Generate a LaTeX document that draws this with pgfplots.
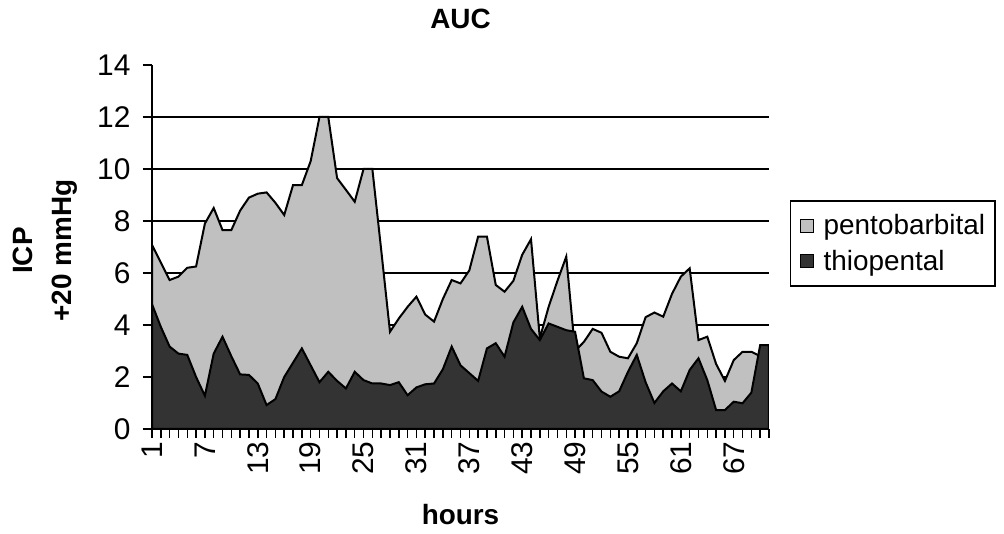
\documentclass[border=0pt]{standalone}
\usepackage{pgfplots}
\usepackage{pgfplotstable}
\pgfplotsset{compat=1.18}
\usepackage{fontspec}
\setmainfont{Liberation Sans}
\definecolor{pento}{RGB}{192,192,192}
\definecolor{thio}{RGB}{51,51,51}

\pgfplotstableread{
h p t
1 7.08 4.80
2 6.40 3.93
3 5.73 3.17
4 5.86 2.90
5 6.20 2.85
6 6.25 2.00
7 7.90 1.28
8 8.50 2.90
9 7.65 3.55
10 7.65 2.80
11 8.40 2.10
12 8.90 2.08
13 9.05 1.75
14 9.10 0.92
15 8.70 1.15
16 8.23 2.00
17 9.38 2.55
18 9.38 3.10
19 10.30 2.45
20 12.00 1.80
21 12.00 2.20
22 9.65 1.85
23 9.20 1.56
24 8.74 2.20
25 10.00 1.88
26 10.00 1.75
27 6.90 1.75
28 3.74 1.69
29 4.25 1.80
30 4.70 1.30
31 5.09 1.60
32 4.40 1.72
33 4.13 1.75
34 5.00 2.30
35 5.73 3.17
36 5.60 2.45
37 6.10 2.15
38 7.40 1.85
39 7.40 3.10
40 5.54 3.30
41 5.28 2.78
42 5.70 4.10
43 6.70 4.70
44 7.30 3.85
45 3.49 3.42
46 4.70 4.06
47 5.70 3.93
48 6.63 3.80
49 3.00 3.74
50 3.35 1.95
51 3.85 1.88
52 3.70 1.44
53 2.97 1.24
54 2.78 1.45
55 2.72 2.20
56 3.30 2.85
57 4.30 1.80
58 4.48 1.00
59 4.32 1.45
60 5.20 1.75
61 5.86 1.45
62 6.18 2.27
63 3.42 2.72
64 3.55 1.88
65 2.50 0.73
66 1.85 0.73
67 2.65 1.05
68 2.97 0.99
69 2.97 1.40
70 2.80 3.23
71 2.80 3.23
}\data

\begin{document}
\begin{tikzpicture}
\useasboundingbox (0,0) rectangle (1004bp,534bp);
\begin{axis}[
  at={(152bp,105bp)}, anchor=south west,
  scale only axis, width=617bp, height=364bp,
  xmin=1, xmax=71, ymin=0, ymax=14,
  axis x line*=bottom, axis y line*=left,
  axis line style={line width=2bp, -},
  /pgf/number format/assume math mode=true,
  ytick={0,2,...,14},
  extra y ticks={2,4,...,12},
  extra y tick labels={},
  extra y tick style={grid=major, major tick length=0pt},
  grid style={black, line width=2bp},
  xtick={1,7,...,67},
  minor xtick={1,...,71},
  tick align=outside,
  major tick length=9bp, minor tick length=9bp,
  tick style={black, line width=1.5bp},
  ticklabel style={font=\fontsize{30}{34}\selectfont},
  xticklabel style={rotate=90, anchor=east},
  yticklabel style={anchor=east, xshift=-9bp},
  title={AUC},
  title style={font=\fontsize{28}{32}\selectfont\bfseries, at={(axis description cs:0.5,1)}, anchor=center, yshift=40bp},
  xlabel={hours},
  xlabel style={font=\fontsize{28}{32}\selectfont\bfseries, at={(axis description cs:0.5,-0.236)}, anchor=center},
  ylabel={ICP\\+20 mmHg},
  ylabel style={font=\fontsize{28}{40}\selectfont\bfseries, align=center, at={(axis description cs:-0.173,0.49)}, anchor=center},
  legend style={at={(axis description cs:1.034,0.629)}, anchor=north west, draw=black, line width=1.5bp,
    font=\fontsize{28}{32}\selectfont, inner xsep=8bp, inner ysep=12bp, row sep=10bp, cells={anchor=west}},
  legend image code/.code={\draw[#1, draw=black, line width=1.2bp] (0bp,-6.5bp) rectangle (13bp,6.5bp); \path (-1bp,0bp) (20bp,0bp);},
]
\addplot[draw=black, line width=2bp, fill=pento, mark=none] table[x=h,y=p]{\data} \closedcycle;
\addplot[draw=black, line width=2bp, fill=thio, mark=none] table[x=h,y=t]{\data} \closedcycle;
\legend{pentobarbital, thiopental}
\end{axis}
\end{tikzpicture}
\end{document}
